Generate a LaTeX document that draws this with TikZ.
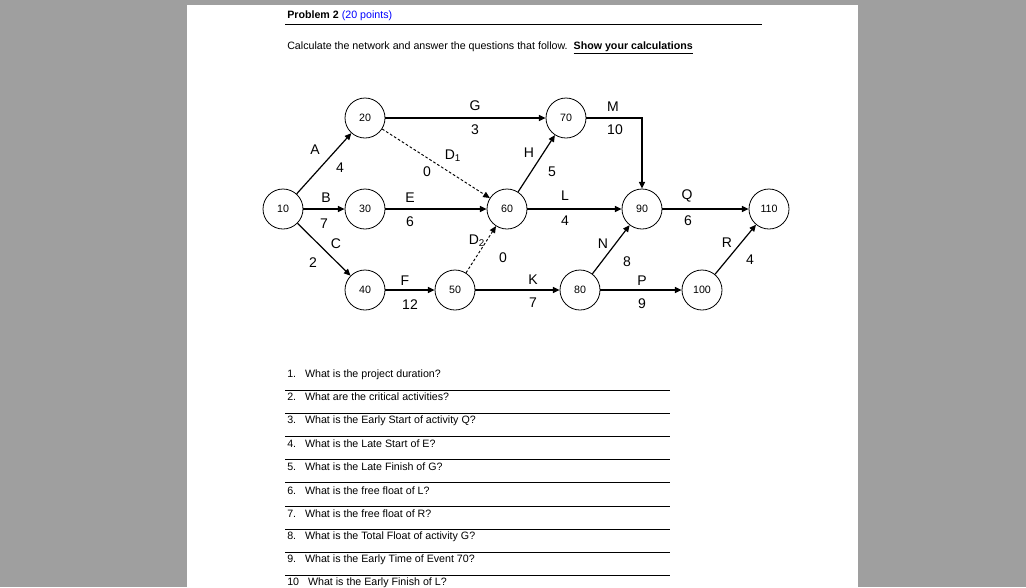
\documentclass[tikz,border=0pt]{standalone}
\usepackage{fontspec}
\setmainfont{Liberation Sans}
\usetikzlibrary{arrows.meta}
\begin{document}
\begin{tikzpicture}[x=0.75pt,y=-0.75pt,
  ev/.style={circle,draw,line width=0.6pt,minimum size=30pt,inner sep=0pt,font=\fontsize{8}{9}\selectfont},
  act/.style={line width=0.9pt,-{Triangle[length=5pt,width=4.5pt]}},
  dum/.style={line width=0.7pt,dashed,dash pattern=on 2pt off 1.5pt,-{Triangle[length=5pt,width=4.5pt]}},
  lb/.style={font=\fontsize{10.5}{11}\selectfont,inner sep=0pt},
  q/.style={font=\fontsize{8}{9}\selectfont,anchor=west,inner sep=0pt}]
\useasboundingbox (0,0) rectangle (1026,587);
\fill[gray!75] (0,0) rectangle (1026,587);
\fill[white] (187,5) rectangle (858,587);
\node[anchor=west,inner sep=0pt,font=\fontsize{8}{9}\selectfont] (title) at (287,16) {\textbf{Problem 2} \textcolor{blue}{(20 points)}};
\draw[line width=0.5pt] (285,24) -- (762,24);
\node[anchor=west,inner sep=0pt,font=\fontsize{8}{9}\selectfont] (intro) at (287,48) {Calculate the network and answer the questions that follow.\ \ \underline{\textbf{Show your calculations}}};
\node[ev] (n10) at (283,209) {10};
\node[ev] (n20) at (365,118) {20};
\node[ev] (n30) at (365,209) {30};
\node[ev] (n40) at (365,290) {40};
\node[ev] (n50) at (455,290) {50};
\node[ev] (n60) at (507,209) {60};
\node[ev] (n70) at (566,118) {70};
\node[ev] (n80) at (580,290) {80};
\node[ev] (n90) at (642,209) {90};
\node[ev] (n100) at (702,290) {100};
\node[ev] (n110) at (769,209) {110};
\draw[act] (n10) -- (n20);
\draw[act] (n10) -- (n30);
\draw[act] (n10) -- (n40);
\draw[act] (n20) -- (n70);
\draw[dum] (n20) -- (n60);
\draw[act] (n30) -- (n60);
\draw[act] (n40) -- (n50);
\draw[dum] (n50) -- (n60);
\draw[act] (n50) -- (n80);
\draw[act] (n60) -- (n70);
\draw[act] (n60) -- (n90);
\draw[act] (n70.east) -| (n90.north);
\draw[act] (n80) -- (n90);
\draw[act] (n80) -- (n100);
\draw[act] (n90) -- (n110);
\draw[act] (n100) -- (n110);
\node[lb] (lA) at (315,150) {A}; \node[lb] (vA) at (340,168) {4};
\node[lb] (lB) at (326,198) {B}; \node[lb] (vB) at (324,224) {7};
\node[lb] (lC) at (336,244) {C}; \node[lb] (vC) at (313,263) {2};
\node[lb] (lG) at (475,106) {G}; \node[lb] (vG) at (475,130) {3};
\node[lb] (lD1) at (453,156) {D\textsubscript{1}}; \node[lb] (vD1) at (427,172) {0};
\node[lb] (lE) at (410,198) {E}; \node[lb] (vE) at (410,222) {6};
\node[lb] (lD2) at (477,241) {D\textsubscript{2}}; \node[lb] (vD2) at (503,258) {0};
\node[lb] (lF) at (405,281) {F}; \node[lb] (vF) at (410,305) {12};
\node[lb] (lK) at (533,280) {K}; \node[lb] (vK) at (533,303) {7};
\node[lb] (lH) at (529,153) {H}; \node[lb] (vH) at (552,172) {5};
\node[lb] (lL) at (565,196) {L}; \node[lb] (vL) at (565,221) {4};
\node[lb] (lM) at (613,107) {M}; \node[lb] (vM) at (615,130) {10};
\node[lb] (lN) at (603,244) {N}; \node[lb] (vN) at (627,262) {8};
\node[lb] (lP) at (642,281) {P}; \node[lb] (vP) at (642,304) {9};
\node[lb] (lQ) at (687,196) {Q}; \node[lb] (vQ) at (688,221) {6};
\node[lb] (lR) at (727,243) {R}; \node[lb] (vR) at (750,260) {4};
\node[q] (q1) at (287,375) {1.\ \ \ What is the project duration?};
\node[q] (q2) at (287,397) {2.\ \ \ What are the critical activities?};
\node[q] (q3) at (287,421) {3.\ \ \ What is the Early Start of activity Q?};
\node[q] (q4) at (287,444) {4.\ \ \ What is the Late Start of E?};
\node[q] (q5) at (287,467) {5.\ \ \ What is the Late Finish of G?};
\node[q] (q6) at (287,491) {6.\ \ \ What is the free float of L?};
\node[q] (q7) at (287,514) {7.\ \ \ What is the free float of R?};
\node[q] (q8) at (287,537) {8.\ \ \ What is the Total Float of activity G?};
\node[q] (q9) at (287,560) {9.\ \ \ What is the Early Time of Event 70?};
\node[q] (q10) at (287,583) {10\ \ \ What is the Early Finish of L?};
\foreach \y in {390,413,436,459,482,506,529,552,575} \draw[line width=0.6pt] (285,\y) -- (670,\y);
\end{tikzpicture}
\end{document}
